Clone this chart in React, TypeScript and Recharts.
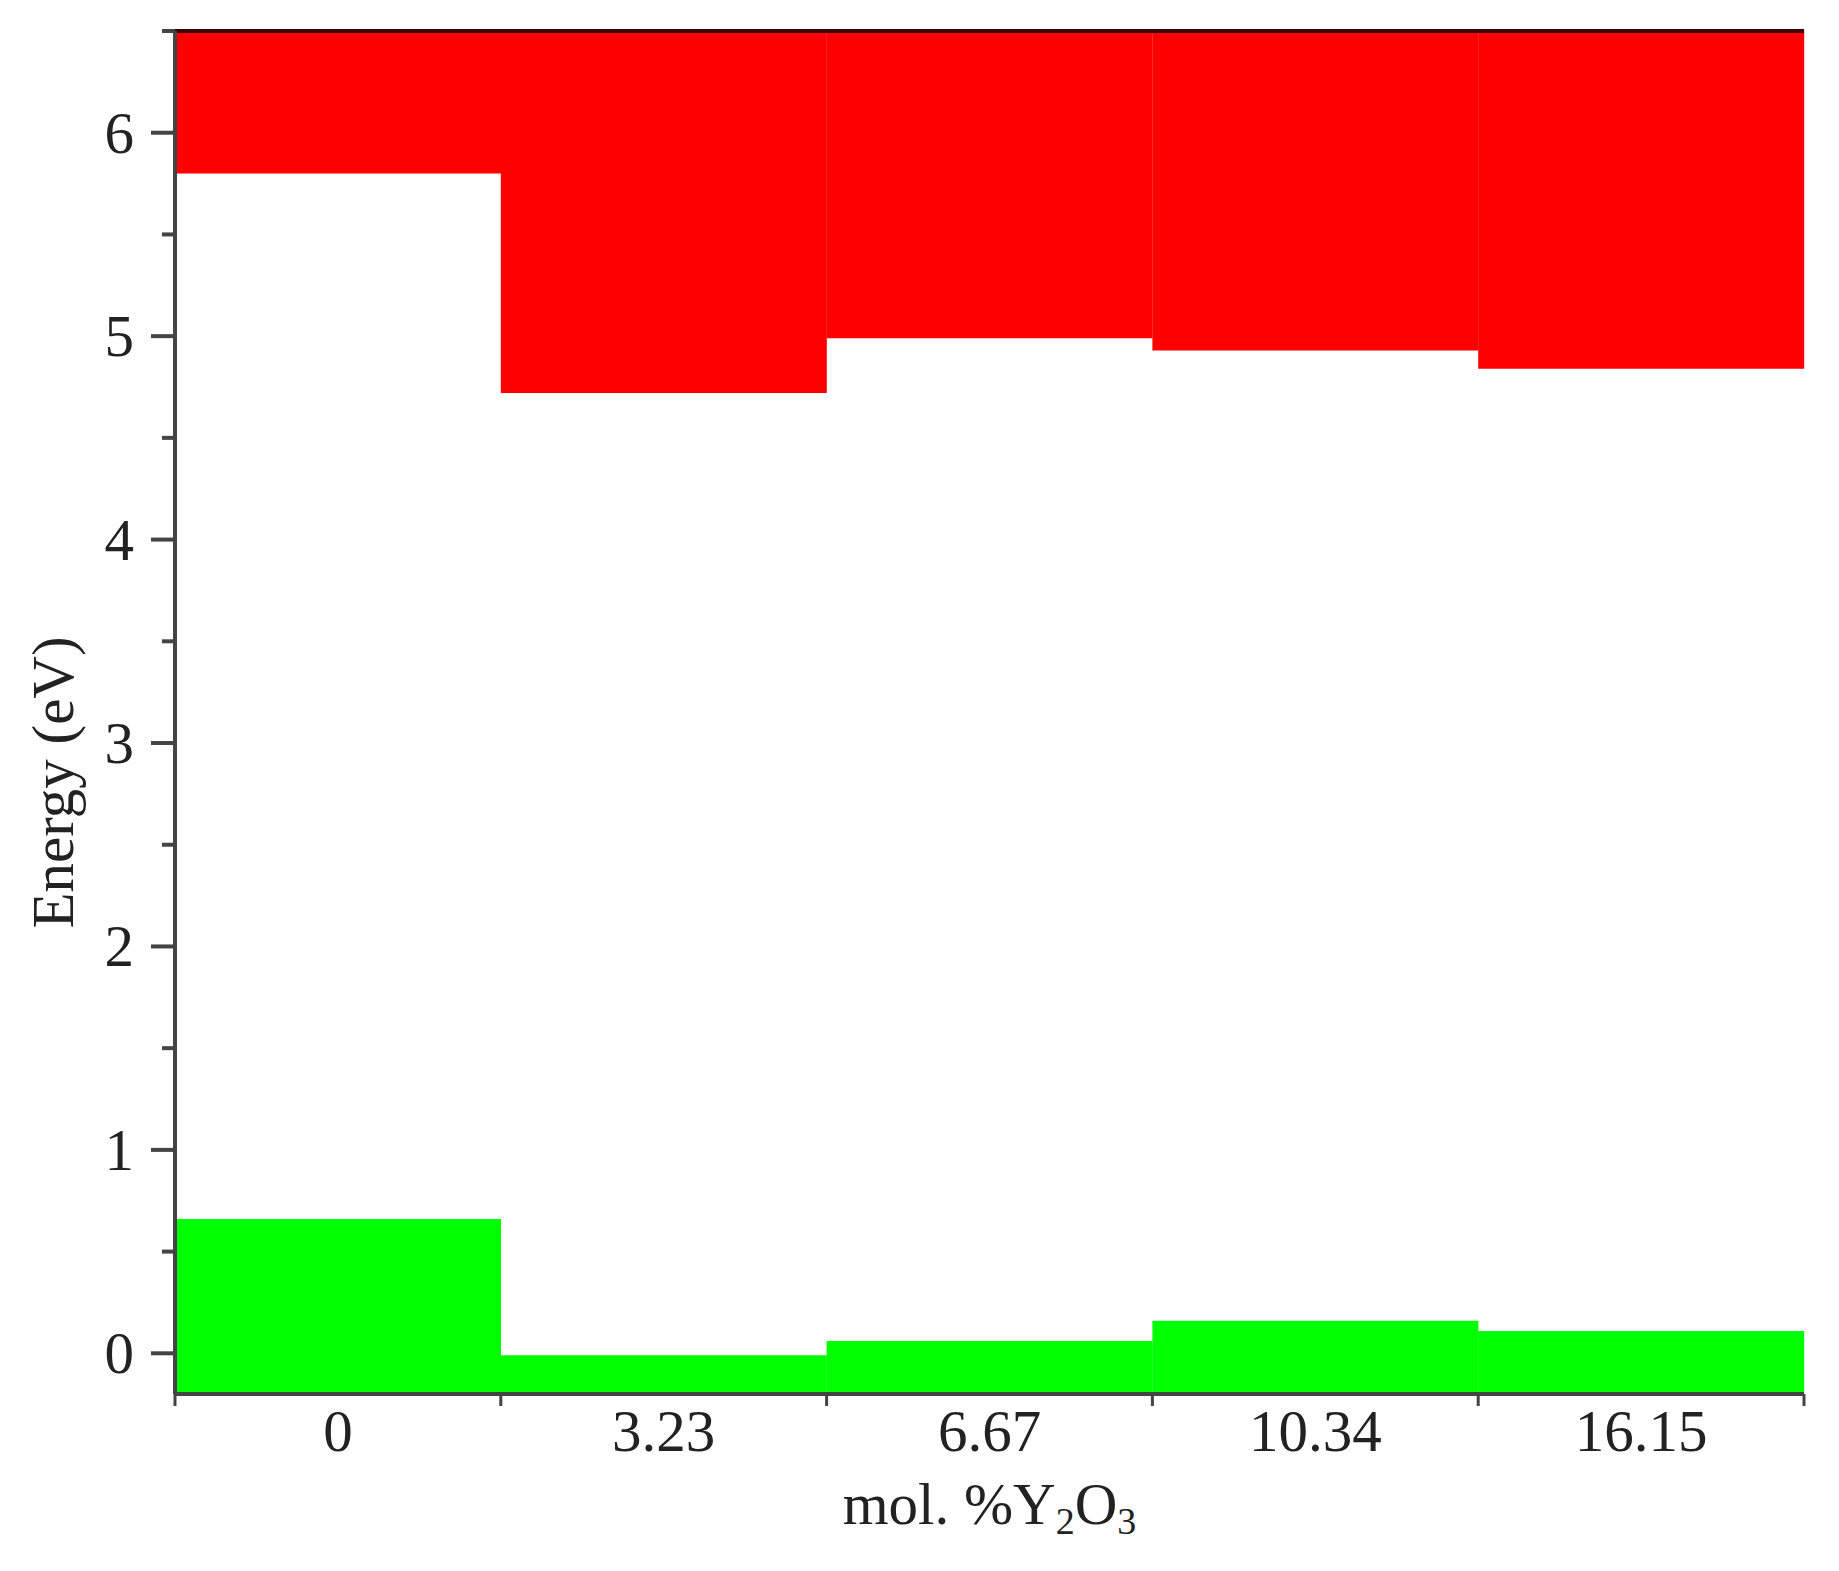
import { BarChart, Bar, XAxis, YAxis, ReferenceLine } from 'recharts';

// composition (mol. % Y2O3)
const categories = ['0', '3.23', '6.67', '10.34', '16.15'];
// band edges (eV)
const conductionBand = [5.8, 4.72, 4.99, 4.93, 4.84];
const valenceBand = [0.66, -0.01, 0.06, 0.16, 0.11];
const energyTicks = [0, 0.5, 1, 1.5, 2, 2.5, 3, 3.5, 4, 4.5, 5, 5.5, 6, 6.5];
const Y_MIN = -0.2;
const Y_MAX = 6.5;

const data = categories.map((name, i) => ({
    name,
    cb: [conductionBand[i], Y_MAX],
    vb: [Y_MIN, valenceBand[i]],
}));

const W = 1839;
const H = 1571;
const MARGIN = { top: 31, right: 35, left: 0, bottom: 0 };
const Y_AXIS_W = 175;
const X_AXIS_H = 177;
const BAND = (W - Y_AXIS_W - MARGIN.right) / categories.length;

const FONT = '"Liberation Serif", "Times New Roman", serif';
const INK = '#222';
const AXIS = '#444';

function EnergyTick({ x, y, payload }: any) {
    const v = payload.value;
    const major = Number.isInteger(v);
    return (
        <g>
            <line x1={x} x2={x - (major ? 24 : 13)} y1={y} y2={y} stroke={AXIS} strokeWidth={4} />
            {major && (
                <text x={x - 41} y={y + 20} textAnchor="end" fontFamily={FONT} fontSize={59} fill={INK}>
                    {v}
                </text>
            )}
        </g>
    );
}

function CategoryTick({ x, y, payload, index }: any) {
    const left = x - BAND / 2;
    return (
        <g>
            <line x1={left} x2={left} y1={y} y2={y + 12} stroke={AXIS} strokeWidth={3} />
            {index === categories.length - 1 && (
                <line x1={x + BAND / 2} x2={x + BAND / 2} y1={y} y2={y + 12} stroke={AXIS} strokeWidth={3} />
            )}
            <text x={x} y={y + 57} textAnchor="middle" fontFamily={FONT} fontSize={59} fill={INK}>
                {payload.value}
            </text>
        </g>
    );
}

export default function App() {
    return (
        <div style={{ position: 'absolute', left: 0, top: 0, background: '#fff' }}>
            <BarChart width={W} height={H} data={data} margin={MARGIN} barCategoryGap={0} barGap={0}>
                <Bar dataKey="vb" fill="#00ff00" isAnimationActive={false} />
                <Bar dataKey="cb" xAxisId="top" fill="#ff0000" isAnimationActive={false} />
                <XAxis
                    dataKey="name"
                    height={X_AXIS_H}
                    tickSize={0}
                    tickMargin={0}
                    tickLine={false}
                    interval={0}
                    axisLine={{ stroke: AXIS, strokeWidth: 4 }}
                    tick={<CategoryTick />}
                    label={{
                        content: ({ viewBox }: any) => (
                            <text
                                x={viewBox.x + viewBox.width / 2}
                                y={viewBox.y + 130}
                                textAnchor="middle"
                                fontFamily={FONT}
                                fontSize={59}
                                fill={INK}
                            >
                                mol. %Y
                                <tspan fontSize={38} dy={10}>2</tspan>
                                <tspan dy={-10}>O</tspan>
                                <tspan fontSize={38} dy={10}>3</tspan>
                            </text>
                        ),
                    }}
                />
                <XAxis
                    xAxisId="top"
                    dataKey="name"
                    orientation="top"
                    height={0}
                    tick={false}
                    tickLine={false}
                    axisLine={{ stroke: '#3a0000', strokeWidth: 4 }}
                />
                <YAxis
                    width={Y_AXIS_W}
                    domain={[Y_MIN, Y_MAX]}
                    allowDataOverflow
                    ticks={energyTicks}
                    interval={0}
                    tickSize={0}
                    tickMargin={0}
                    tickLine={false}
                    axisLine={{ stroke: AXIS, strokeWidth: 4 }}
                    tick={<EnergyTick />}
                    label={{
                        content: ({ viewBox }: any) => {
                            const cx = 53;
                            const cy = viewBox.y + viewBox.height / 2 + 70;
                            return (
                                <text
                                    x={cx}
                                    y={cy}
                                    transform={`rotate(-90, ${cx}, ${cy})`}
                                    textAnchor="middle"
                                    dominantBaseline="central"
                                    fontFamily={FONT}
                                    fontSize={59}
                                    fill={INK}
                                >
                                    Energy (eV)
                                </text>
                            );
                        },
                    }}
                />
                <YAxis
                    yAxisId="right"
                    orientation="right"
                    width={0}
                    domain={[Y_MIN, Y_MAX]}
                    allowDataOverflow
                    tick={false}
                    tickLine={false}
                    axisLine={{ stroke: AXIS, strokeWidth: 4 }}
                />
                <ReferenceLine y={Y_MAX} stroke="#3a0000" strokeWidth={4} ifOverflow="visible" />
            </BarChart>
        </div>
    );
}
